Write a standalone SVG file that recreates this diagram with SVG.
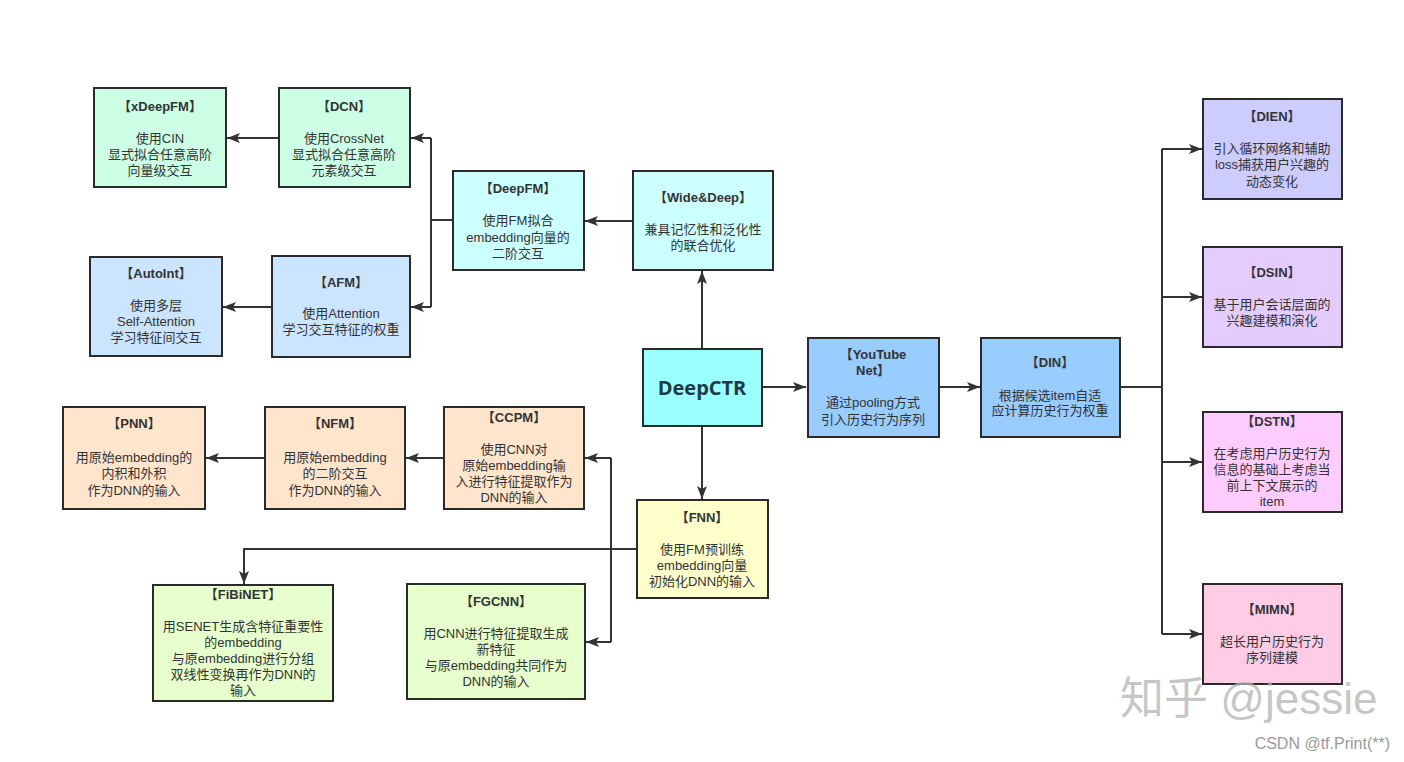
<svg xmlns="http://www.w3.org/2000/svg" width="1404" height="762" viewBox="0 0 1404 762">
<defs>
<marker id="ah" markerUnits="userSpaceOnUse" markerWidth="14" markerHeight="12" refX="13" refY="6" orient="auto">
<path d="M0,1 L13,6 L0,11 L3,6 z" fill="#333"/>
</marker>
<style>
.box{stroke:#2a2a2a;stroke-width:2}
.t{font-family:"Liberation Sans","Noto Sans CJK SC",sans-serif;font-size:13px;font-weight:bold;fill:#333;text-anchor:middle}
.b{font-family:"Liberation Sans","Noto Sans CJK SC",sans-serif;font-size:13px;fill:#333;text-anchor:middle}
.c{fill:none;stroke:#333;stroke-width:2}
.mint{fill:#ccffe6}.lb{fill:#cce5ff}.cy{fill:#ccffff}.cy2{fill:#99ffff}.bl{fill:#99ccff}
.pu{fill:#ccccff}.vi{fill:#e5ccff}.pk{fill:#ffccff}.pk2{fill:#ffcce6}.or{fill:#ffe5cc}.ye{fill:#ffffcc}.gr{fill:#e6ffcc}
</style>
</defs>
<rect width="1404" height="762" fill="#ffffff"/>

<g id="connectors">
<line class="c" x1="279" y1="138" x2="227" y2="138" marker-end="url(#ah)"/>
<line class="c" x1="272" y1="307" x2="223" y2="307" marker-end="url(#ah)"/>
<polyline class="c" points="453,220 431,220"/>
<polyline class="c" points="431,138 431,307"/>
<line class="c" x1="431" y1="138" x2="411" y2="138" marker-end="url(#ah)"/>
<line class="c" x1="431" y1="307" x2="411" y2="307" marker-end="url(#ah)"/>
<line class="c" x1="633" y1="221" x2="585" y2="221" marker-end="url(#ah)"/>
<line class="c" x1="702" y1="349" x2="702" y2="271" marker-end="url(#ah)"/>
<line class="c" x1="762" y1="387" x2="806" y2="387" marker-end="url(#ah)"/>
<line class="c" x1="939" y1="387" x2="980" y2="387" marker-end="url(#ah)"/>
<polyline class="c" points="1120,387 1162,387"/>
<polyline class="c" points="1162,149 1162,634"/>
<line class="c" x1="1162" y1="149" x2="1202" y2="149" marker-end="url(#ah)"/>
<line class="c" x1="1162" y1="297" x2="1202" y2="297" marker-end="url(#ah)"/>
<line class="c" x1="1162" y1="462" x2="1202" y2="462" marker-end="url(#ah)"/>
<line class="c" x1="1162" y1="634" x2="1202" y2="634" marker-end="url(#ah)"/>
<line class="c" x1="702" y1="426" x2="702" y2="499" marker-end="url(#ah)"/>
<line class="c" x1="444" y1="458" x2="406" y2="458" marker-end="url(#ah)"/>
<line class="c" x1="265" y1="458" x2="206" y2="458" marker-end="url(#ah)"/>
<polyline class="c" points="637,549 244,549 244,584" marker-end="url(#ah)"/>
<polyline class="c" points="611,458 611,642"/>
<line class="c" x1="611" y1="458" x2="585" y2="458" marker-end="url(#ah)"/>
<line class="c" x1="611" y1="642" x2="586" y2="642" marker-end="url(#ah)"/>
</g>

<g id="xDeepFM">
<rect class="box mint" x="94" y="88" width="132" height="99"/>
<text class="t" x="160" y="111">【xDeepFM】</text>
<text class="b"><tspan x="160" y="143">使用CIN</tspan><tspan x="160" y="159">显式拟合任意高阶</tspan><tspan x="160" y="175">向量级交互</tspan></text>
</g>
<g id="DCN">
<rect class="box mint" x="279" y="88" width="131" height="99"/>
<text class="t" x="344" y="111">【DCN】</text>
<text class="b"><tspan x="344" y="143">使用CrossNet</tspan><tspan x="344" y="159">显式拟合任意高阶</tspan><tspan x="344" y="175">元素级交互</tspan></text>
</g>
<g id="AutoInt">
<rect class="box lb" x="90" y="257" width="132" height="99"/>
<text class="t" x="156" y="278">【AutoInt】</text>
<text class="b"><tspan x="156" y="310">使用多层</tspan><tspan x="156" y="326">Self-Attention</tspan><tspan x="156" y="342">学习特征间交互</tspan></text>
</g>
<g id="AFM">
<rect class="box lb" x="272" y="256" width="138" height="101"/>
<text class="t" x="341" y="287">【AFM】</text>
<text class="b"><tspan x="341" y="318">使用Attention</tspan><tspan x="341" y="334">学习交互特征的权重</tspan></text>
</g>
<g id="DeepFM">
<rect class="box cy" x="453" y="171" width="131" height="99"/>
<text class="t" x="518" y="193">【DeepFM】</text>
<text class="b"><tspan x="518" y="225">使用FM拟合</tspan><tspan x="518" y="242">embedding向量的</tspan><tspan x="518" y="258">二阶交互</tspan></text>
</g>
<g id="WideDeep">
<rect class="box cy" x="633" y="171" width="140" height="99"/>
<text class="t" x="703" y="202">【Wide&amp;Deep】</text>
<text class="b"><tspan x="703" y="234">兼具记忆性和泛化性</tspan><tspan x="703" y="250">的联合优化</tspan></text>
</g>
<g id="DeepCTR">
<rect class="box cy2" x="643" y="349" width="119" height="77"/>
<text x="702" y="395" text-anchor="middle" font-family="Open Sans,'Noto Sans',sans-serif" font-size="20" font-weight="bold" fill="#1f3a44">DeepCTR</text>
</g>
<g id="YouTubeNet">
<rect class="box bl" x="808" y="338" width="131" height="99"/>
<text class="t"><tspan x="873" y="359">【YouTube</tspan><tspan x="873" y="375">Net】</tspan></text>
<text class="b"><tspan x="873" y="407">通过pooling方式</tspan><tspan x="873" y="424">引入历史行为序列</tspan></text>
</g>
<g id="DIN">
<rect class="box bl" x="981" y="338" width="139" height="99"/>
<text class="t" x="1050" y="367">【DIN】</text>
<text class="b"><tspan x="1050" y="400">根据候选item自适</tspan><tspan x="1050" y="415">应计算历史行为权重</tspan></text>
</g>
<g id="DIEN">
<rect class="box pu" x="1203" y="99" width="139" height="100"/>
<text class="t" x="1272" y="121">【DIEN】</text>
<text class="b"><tspan x="1272" y="153">引入循环网络和辅助</tspan><tspan x="1272" y="169">loss捕获用户兴趣的</tspan><tspan x="1272" y="186">动态变化</tspan></text>
</g>
<g id="DSIN">
<rect class="box vi" x="1203" y="247" width="139" height="100"/>
<text class="t" x="1272" y="277">【DSIN】</text>
<text class="b"><tspan x="1272" y="309">基于用户会话层面的</tspan><tspan x="1272" y="325">兴趣建模和演化</tspan></text>
</g>
<g id="DSTN">
<rect class="box pk" x="1203" y="412" width="139" height="100"/>
<text class="t" x="1272" y="426">【DSTN】</text>
<text class="b"><tspan x="1272" y="458">在考虑用户历史行为</tspan><tspan x="1272" y="474">信息的基础上考虑当</tspan><tspan x="1272" y="490">前上下文展示的</tspan><tspan x="1272" y="506">item</tspan></text>
</g>
<g id="MIMN">
<rect class="box pk2" x="1203" y="584" width="139" height="100"/>
<text class="t" x="1272" y="614">【MIMN】</text>
<text class="b"><tspan x="1272" y="646">超长用户历史行为</tspan><tspan x="1272" y="662">序列建模</tspan></text>
</g>
<g id="PNN">
<rect class="box or" x="63" y="407" width="142" height="102"/>
<text class="t" x="134" y="428">【PNN】</text>
<text class="b"><tspan x="134" y="462">用原始embedding的</tspan><tspan x="134" y="478">内积和外积</tspan><tspan x="134" y="495">作为DNN的输入</tspan></text>
</g>
<g id="NFM">
<rect class="box or" x="265" y="407" width="140" height="102"/>
<text class="t" x="335" y="428">【NFM】</text>
<text class="b"><tspan x="335" y="462">用原始embedding</tspan><tspan x="335" y="478">的二阶交互</tspan><tspan x="335" y="495">作为DNN的输入</tspan></text>
</g>
<g id="CCPM">
<rect class="box or" x="444" y="407" width="140" height="102"/>
<text class="t" x="514" y="422">【CCPM】</text>
<text class="b"><tspan x="514" y="454">使用CNN对</tspan><tspan x="514" y="470">原始embedding输</tspan><tspan x="514" y="486">入进行特征提取作为</tspan><tspan x="514" y="502">DNN的输入</tspan></text>
</g>
<g id="FNN">
<rect class="box ye" x="637" y="500" width="131" height="98"/>
<text class="t" x="702" y="522">【FNN】</text>
<text class="b"><tspan x="702" y="554">使用FM预训练</tspan><tspan x="702" y="570">embedding向量</tspan><tspan x="702" y="586">初始化DNN的输入</tspan></text>
</g>
<g id="FiBiNET">
<rect class="box gr" x="153" y="585" width="180" height="116"/>
<text class="t" x="243" y="599">【FiBiNET】</text>
<text class="b"><tspan x="243" y="631">用SENET生成含特征重要性</tspan><tspan x="243" y="647">的embedding</tspan><tspan x="243" y="663">与原embedding进行分组</tspan><tspan x="243" y="679">双线性变换再作为DNN的</tspan><tspan x="243" y="695">输入</tspan></text>
</g>
<g id="FGCNN">
<rect class="box gr" x="407" y="584" width="178" height="115"/>
<text class="t" x="496" y="606">【FGCNN】</text>
<text class="b"><tspan x="496" y="638">用CNN进行特征提取生成</tspan><tspan x="496" y="654">新特征</tspan><tspan x="496" y="670">与原embedding共同作为</tspan><tspan x="496" y="686">DNN的输入</tspan></text>
</g>

<g id="watermark">
<text x="1120" y="714" font-family="'Liberation Sans','Noto Sans CJK SC',sans-serif" font-size="44" fill="#b4b4b4" fill-opacity="0.75">知乎 @jessie</text>
<text x="1390" y="749" text-anchor="end" font-family="'Liberation Sans',Arial,sans-serif" font-size="16" fill="#9a9a9a">CSDN @tf.Print(**)</text>
</g>
</svg>
